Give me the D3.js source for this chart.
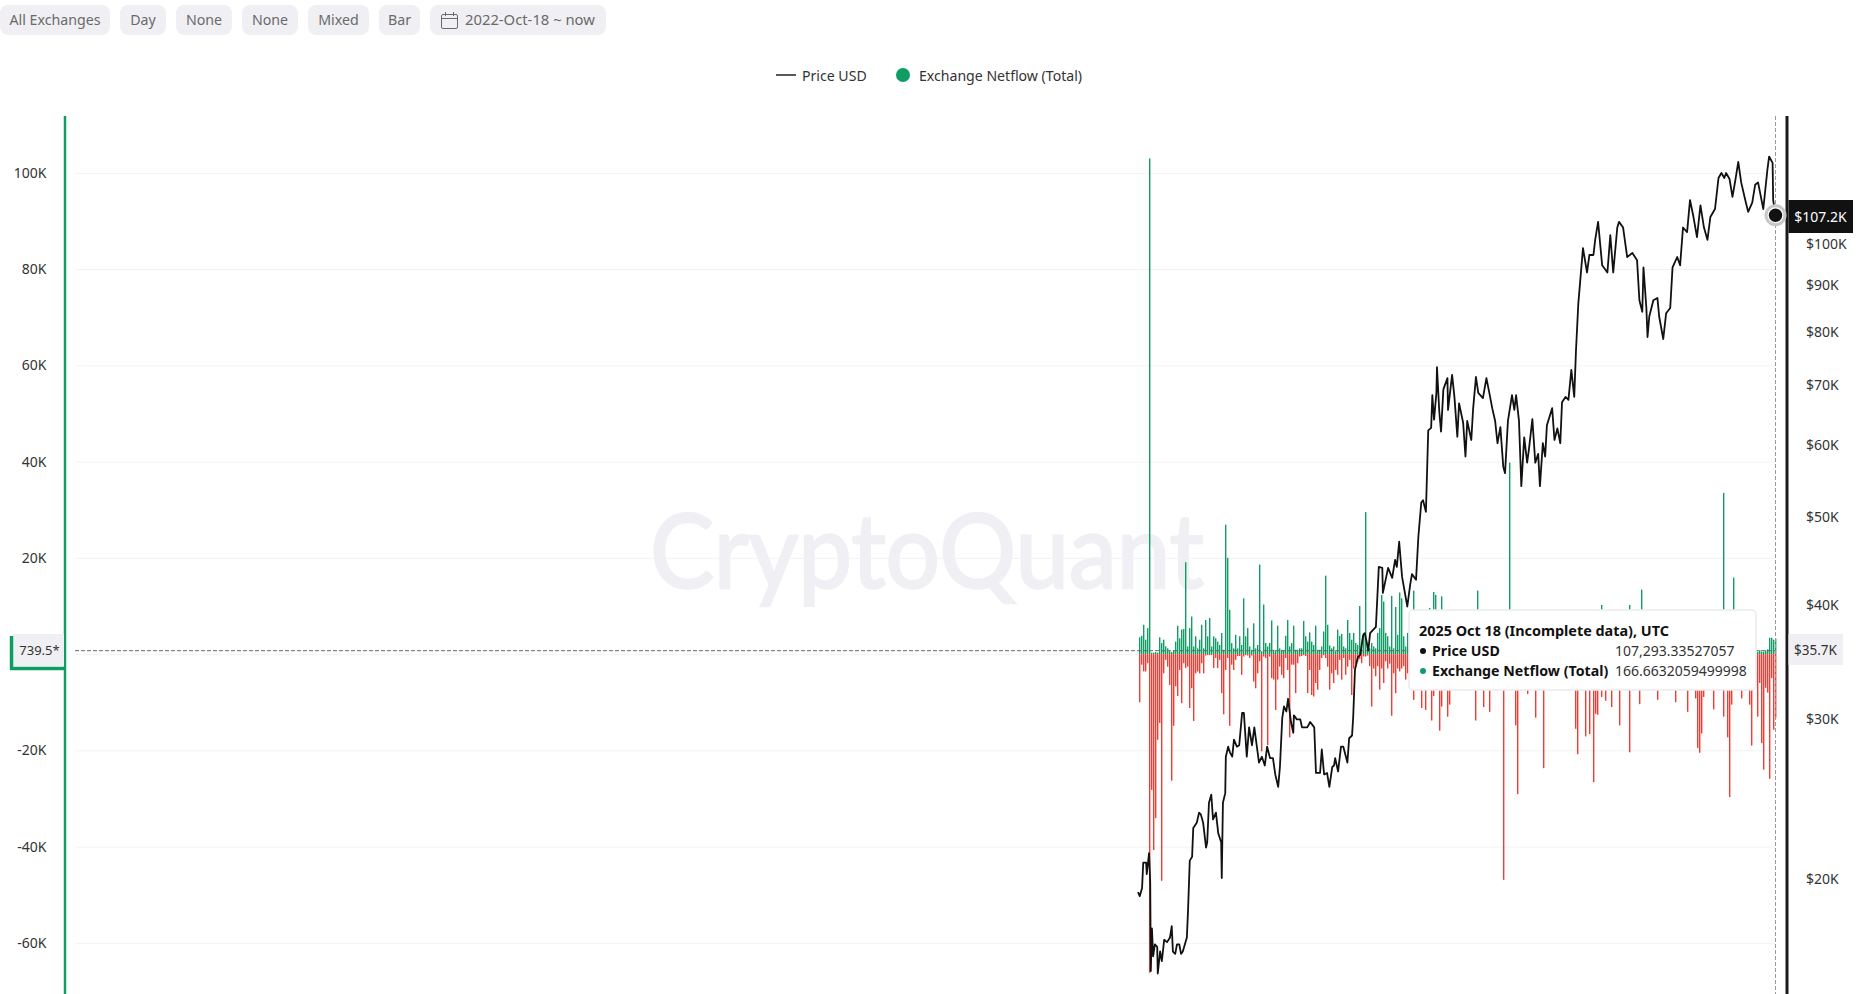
<!DOCTYPE html>
<html><head><meta charset="utf-8">
<style>html,body{margin:0;padding:0;background:#fff}svg{display:block}text{font-family:"Noto Sans",sans-serif}</style>
<script src="https://cdn.jsdelivr.net/npm/d3@7/dist/d3.min.js"></script>
</head><body><div id="c"></div>
<script>
const toolbarLabels=["All Exchanges","Day","None","None","Mixed","Bar","2022-Oct-18 ~ now"];
const leftTicks=[-60000,-40000,-20000,20000,40000,60000,80000,100000];
const gridTicks=[-60000,-40000,-20000,0,20000,40000,60000,80000,100000];
const rightTicks=[20000,30000,40000,50000,60000,70000,80000,90000,100000];
const legendLabels=["Price USD","Exchange Netflow (Total)"];
const tooltipTitle="2025 Oct 18 (Incomplete data), UTC";
const tooltipNames=["Price USD","Exchange Netflow (Total)"];
const tooltipValues=["107,293.33527057","166.6632059499998"];

// Price, days since 2022-Oct-18
const priceDays=[0,3,7,9,14,15,19,21,22,24,26,29,33,34,38,41,45,50,55,58,60,64,67,71,74,77,84,86,89,93,95,101,105,108,112,117,119,122,126,129,134,138,143,144,146,150,151,155,158,162,165,170,174,179,182,187,191,196,200,205,208,213,218,222,227,232,236,241,244,248,251,255,258,263,267,268,273,279,282,291,296,303,306,313,316,320,325,329,334,337,339,344,349,353,360,363,368,370,373,378,382,387,390,396,399,409,414,420,421,430,437,442,445,449,454,463,468,471,478,482,487,490,495,499,504,506,509,513,514,518,521,525,532,533,540,544,549,552,559,563,566,573,576,581,585,593,599,604,609,614,618,623,628,631,636,643,647,650,655,659,664,669,672,678,683,688,691,696,700,703,712,716,721,726,729,735,740,745,750,753,757,760,765,772,776,783,786,791,798,807,812,817,824,827,834,841,850,858,862,867,869,874,876,879,886,893,896,903,908,915,919,927,932,937,944,949,955,961,967,973,979,984,992,998,1003,1008,1011,1017,1022,1027,1032,1037,1044,1049,1056,1061,1066,1075,1082,1085,1091,1092,1096];
// Price, thousands of USD
const priceValues=[19.3,19.1,19.5,20.8,20.8,20.2,21.3,19.8,15.8,17.6,16.4,16.9,16.8,15.7,16.6,16.2,17.1,17.0,17.2,17.7,16.6,16.5,16.9,16.9,16.5,16.6,17.2,18.4,20.9,21.1,22.7,23.0,23.6,23.5,23.0,21.6,21.9,24.2,24.7,23.2,23.6,22.4,21.9,20.0,24.2,24.8,27.2,27.9,27.5,27.2,28.4,27.9,28.0,30.4,30.4,27.2,29.3,28.0,29.3,27.7,26.8,27.2,26.6,27.9,27.1,27.1,26.0,25.2,26.5,30.0,30.9,30.5,31.5,29.7,28.9,30.2,29.9,29.9,29.3,29.3,29.7,29.3,26.1,26.1,27.7,26.0,26.1,25.2,26.5,26.6,27.1,26.2,27.9,27.9,26.8,28.5,28.7,30.1,33.9,35,35.2,37.0,37.2,35.6,37.2,37.8,44,43.9,41.2,43.9,42.8,44.8,44.0,46.9,42.9,39.8,42.1,43.2,42.6,47.5,51.8,52.1,50.6,62.2,62.6,68,63.9,68.4,73,65.2,62,69,71,65.5,71.6,67.7,61.2,66.6,63.4,58.2,63.7,60.7,65.5,71.2,68.4,67.5,71,68.4,65.8,63.7,60.2,62.7,56.7,55.8,63.7,68,65.5,68,63.7,54,61.1,57.3,59.2,64,57.3,58.6,54,60.2,58.2,63,65.8,60.7,62.5,60.2,66.8,67.7,67.2,72.5,67.7,76.2,85.8,90.4,98.7,92.8,97,97,100.8,105.5,94.5,92.8,102,92.8,104,105.5,104,96.5,97.5,95.7,86.5,84,94,84.8,78.8,83,86.5,87,83,78.4,83.7,84.8,94,96.5,94.5,104,102.8,111.5,106.8,101.5,110,104,100.8,106.8,109,117.9,119.4,117.9,119.4,117.6,112.4,117.3,122.8,116.6,111.5,108.2,110.8,115.9,116.6,109,120.3,124.5,122.5,111.5,107.3];

// Netflow, thousands of BTC, slots 0..134 (read one by one), then the slots visible around the tooltip
const inflowDense=[3.5,3.8,6.1,3.0,5.4,103,0.3,0.3,0.4,0.3,
3.5,2.3,3.0,1.6,1.2,0.6,0.4,0.8,2.6,5.9,
3.3,5.1,5.2,19.1,1.6,5.4,7.8,1.6,3.7,1.2,
3.0,6.1,1.2,7.1,3.7,7.5,1.6,3.7,3.3,2.6,
1.9,4.4,0.9,26.9,20.0,9.2,2.3,1.2,4.0,1.2,
3.7,1.9,11.6,3.7,5.4,1.6,0.9,6.4,1.2,1.9,
18.6,0.6,10.3,2.3,1.6,2.3,7.0,0.9,0.6,5.9,
1.2,0.9,0.8,3.8,7.1,1.6,2.3,5.9,0.9,0.9,
1.2,1.2,6.9,3.7,2.6,4.5,2.6,1.9,5.9,0.9,
0.9,1.6,4.7,16.3,6.1,1.8,1.2,1.6,0.6,5.1,
3.8,4.2,1.6,1.2,7.1,4.4,3.0,4.4,2.3,1.9,
10.0,2.3,4.4,29.5,1.6,1.2,2.3,1.6,1.2,4.4,
5.4,12.3,10.9,4.4,3.7,1.6,12.1,1.2,9.8,4.0,
12.8,11.6,3.7,1.6,4.4];
const inflowSparseSlots=[137,145,147,148,151,169,185,231,245,251,292,297,309,310,311,312,313,314,315,316,317,318];
const inflowSparseValues=[13.2,9.6,12.9,12.3,12,13.2,39.8,10.2,10.2,13.4,33.5,15.9,0.5,0.8,0.5,0.5,0.8,1.0,3.4,3.4,3.0,3.2];
const outflowDense=[10.0,2.2,3.6,3.6,1.9,66.2,28.2,40.7,34.1,17.8,
14.3,47.1,4.0,1.2,2.6,6.4,26.3,14.9,6.7,8.7,
3.3,10.2,1.9,2.9,2.6,11.2,7.1,13.9,4.0,3.6,
4.0,1.9,4.0,0.3,0.2,0.2,0.2,2.9,0.8,2.9,
1.2,8.1,12.5,3.3,0.8,14.9,2.2,3.3,1.2,0.4,
0.4,4.3,0.5,0.2,0.3,0.8,0.3,5.7,7.1,4.0,
1.5,20.2,0.5,0.8,18.9,0.5,5.0,5.3,11.6,5.3,
2.6,4.3,5.0,0.8,3.3,17.3,2.2,2.2,8.1,1.9,
0.5,0.4,0.2,0.4,8.1,3.3,8.5,8.8,6.0,7.4,
3.3,0.8,0.2,0.8,2.6,7.4,4.0,6.0,3.3,4.3,
1.2,5.3,0.8,4.3,2.6,1.2,8.5,3.0,2.0,1.5,
1.0,1.9,0.5,0.5,0.3,2.5,10.9,3.0,4.6,2.5,
7.4,3.0,6.0,1.5,3.0,2.0,12.8,4.0,8.1,3.0,
3.6,3.0,2.5,5.3,4.0];
const outflowSparseSlots=[137,141,143,146,147,150,151,154,155,168,172,175,182,188,189,194,198,202,218,219,223,225,227,228,229,231,233,236,240,245,250,259,268,274,278,279,280,281,282,287,292,294,295,296,301,305,306,309,310,311,312,313,314,315,316,317,318];
const outflowSparseValues=[9.5,11.2,11.6,13.8,8.7,15.9,10.9,13,10.5,13.8,11,12,46.9,14.8,29.1,8.3,13.2,23.7,15.5,20.8,17.1,16.6,26.6,12.4,12.6,8.9,9.7,11,14.8,20.4,10.4,9.5,10,12,9.2,19.5,20.5,16.5,8.9,11.5,13,17.3,29.7,10.5,9.2,10.5,19,13,6,18.5,24,7,8,25.9,5,15.7,13.2];

const W=1866,H=994;
const GREEN="#0f9d63",RED="#f8392f",INK="#333";
const yLeft=d3.scaleLinear().domain([-60000,100000]).range([942.9,172.8]);
const yRight=d3.scaleLog().domain([20000,100000]).range([878,243]);
const xDay=d3.scaleLinear().domain([0,1096]).range([1138,1775.5]);
const xSlot=d3.scaleLinear().domain([0,318]).range([1139,1775]);

const svg=d3.select("#c").append("svg").attr("width",W).attr("height",H);

// watermark
svg.append("text").text("CryptoQuant").attr("x",650).attr("y",588)
 .attr("textLength",554).attr("lengthAdjust","spacingAndGlyphs")
 .style("font-family","Lato").style("font-size","103px").attr("fill","#f0f0f4")
 .attr("stroke","#f0f0f4").attr("stroke-width",2.5);

// toolbar
const toolbarBoxes=[[0,110],[120,166],[176,232],[242,298],[308,369],[379,420],[430,606]];
const tb=svg.append("g").selectAll("g").data(toolbarLabels).join("g");
tb.append("rect").attr("x",(d,i)=>toolbarBoxes[i][0]).attr("y",5).attr("rx",8)
 .attr("width",(d,i)=>toolbarBoxes[i][1]-toolbarBoxes[i][0]).attr("height",30).attr("fill","#f0f0f4");
tb.append("text").text(d=>d).attr("x",(d,i)=>i==6?465:(toolbarBoxes[i][0]+toolbarBoxes[i][1])/2)
 .attr("text-anchor",(d,i)=>i==6?"start":"middle").attr("y",25).attr("fill","#6a6a6a").style("font-size",(d,i)=>i==6?"14.8px":"14.2px");
const cal=svg.append("g").attr("fill","none").attr("stroke","#6a6a6a").attr("stroke-width",1);
cal.append("rect").attr("x",441.5).attr("y",14.5).attr("width",16).attr("height",14).attr("rx",1.5);
cal.append("path").attr("d","M441.5 18.5H457.5M445.5 12V16M453.5 12V16");

// legend
svg.append("line").attr("x1",776).attr("x2",796).attr("y1",75).attr("y2",75).attr("stroke","#222").attr("stroke-width",1.5);
svg.append("circle").attr("cx",903).attr("cy",75).attr("r",7).attr("fill",GREEN);
svg.selectAll(".lg").data(legendLabels).join("text").attr("class","lg").text(d=>d)
 .attr("x",(d,i)=>i?919:802).attr("y",80.5).attr("fill",INK).style("font-size","14.1px");

// grid
const grid=svg.append("g").attr("transform","translate(75,0)")
 .call(d3.axisRight(yLeft).tickValues(gridTicks).tickSize(1700).tickFormat(""));
grid.select(".domain").remove();
grid.selectAll("line").attr("stroke","#f3f3f5").attr("stroke-width",1);

// axes
const gl=svg.append("g").attr("transform","translate(46.5,0)")
 .call(d3.axisLeft(yLeft).tickValues(leftTicks).tickSize(0).tickPadding(0).tickFormat(d=>(d/1000)+"K"));
gl.select(".domain").remove();
gl.selectAll("text").attr("fill",INK).style("font-size","14px").style("font-family",'"Noto Sans",sans-serif');
const gr=svg.append("g").attr("transform","translate(1806,0.8)")
 .call(d3.axisRight(yRight).tickValues(rightTicks).tickSize(0).tickPadding(0).tickFormat(d=>"$"+(d/1000)+"K"));
gr.select(".domain").remove();
gr.selectAll("text").attr("fill",INK).style("font-size","14px").style("font-family",'"Noto Sans",sans-serif');
svg.append("line").attr("x1",65).attr("x2",65).attr("y1",116).attr("y2",H).attr("stroke",GREEN).attr("stroke-width",2.5);
svg.append("line").attr("x1",1787).attr("x2",1787).attr("y1",116).attr("y2",H).attr("stroke","#1a1a1a").attr("stroke-width",3);

// bars
const barW=1.4;
const inflow=inflowDense.map((v,i)=>({s:i,v})).concat(inflowSparseSlots.map((s,i)=>({s,v:inflowSparseValues[i]})));
const outflow=outflowDense.map((v,i)=>({s:i,v})).concat(outflowSparseSlots.map((s,i)=>({s,v:outflowSparseValues[i]})));
svg.append("g").selectAll("rect").data(outflow).join("rect")
 .attr("x",d=>xSlot(d.s)).attr("width",barW).attr("y",yLeft(0))
 .attr("height",d=>yLeft(-d.v*1000)-yLeft(0)).attr("fill",RED);
svg.append("g").selectAll("rect").data(inflow).join("rect")
 .attr("x",d=>xSlot(d.s)).attr("width",barW).attr("y",d=>yLeft(d.v*1000))
 .attr("height",d=>yLeft(0)-yLeft(d.v*1000)).attr("fill",GREEN);

// crosshair
svg.append("line").attr("x1",75).attr("x2",1775).attr("y1",650.7).attr("y2",650.7).attr("stroke","#666").attr("stroke-dasharray","4 2");
svg.append("line").attr("x1",1775.5).attr("x2",1775.5).attr("y1",116).attr("y2",H).attr("stroke","#999").attr("stroke-dasharray","4 2");

// price line
const line=d3.line().x(d=>xDay(d.d)).y(d=>yRight(d.p*1000));
svg.append("path").datum(priceDays.map((d,i)=>({d,p:priceValues[i]}))).attr("d",line)
 .attr("fill","none").attr("stroke","#111").attr("stroke-width",1.8).attr("stroke-linejoin","round");

// end point
const last={d:priceDays[priceDays.length-1],p:priceValues[priceValues.length-1]};
svg.append("circle").attr("cx",xDay(last.d)).attr("cy",yRight(last.p*1000)).attr("r",9.5).attr("fill","#fff").attr("stroke","#c8c8c8").attr("stroke-width",3);
svg.append("circle").attr("cx",xDay(last.d)).attr("cy",yRight(last.p*1000)).attr("r",6.7).attr("fill","#111");

// axis value boxes
svg.append("rect").attr("x",13).attr("y",634).attr("width",51).attr("height",32).attr("fill","#f0f0f4");
svg.append("path").attr("d","M11.5 636V668.5H64").attr("fill","none").attr("stroke",GREEN).attr("stroke-width",3.5);
svg.append("text").text("739.5*").attr("x",39.5).attr("y",655).attr("text-anchor","middle").attr("fill",INK).style("font-size","13px");
svg.append("rect").attr("x",1788.5).attr("y",634).attr("width",54.5).attr("height",31).attr("fill","#f0f0f4");
svg.append("text").text("$35.7K").attr("x",1815.5).attr("y",654.5).attr("text-anchor","middle").attr("fill",INK).style("font-size","13.5px");
svg.append("rect").attr("x",1788.5).attr("y",200).attr("width",64.5).attr("height",33).attr("fill","#111");
svg.append("text").text("$107.2K").attr("x",1820.5).attr("y",222).attr("text-anchor","middle").attr("fill","#fff").style("font-size","14px");

// tooltip
svg.append("rect").attr("x",1409).attr("y",610).attr("width",347).attr("height",80).attr("rx",4)
 .attr("fill","#fff").attr("stroke","#ebebf0").attr("stroke-width",1.5);
svg.append("text").text(tooltipTitle).attr("x",1419).attr("y",636).attr("fill","#111").style("font-size","14.4px").style("font-weight",700);
svg.selectAll(".tn").data(tooltipNames).join("text").attr("class","tn").text(d=>d)
 .attr("x",1432).attr("y",(d,i)=>656+i*20).attr("fill","#111").style("font-size","14.2px").style("font-weight",700);
svg.selectAll(".tv").data(tooltipValues).join("text").attr("class","tv").text(d=>d)
 .attr("x",1615).attr("y",(d,i)=>656+i*20).attr("fill",INK).style("font-size","14px");
svg.selectAll(".tb").data(["#111",GREEN]).join("circle").attr("class","tb").attr("cx",1423).attr("cy",(d,i)=>651+i*20).attr("r",3).attr("fill",d=>d);
</script></body></html>
